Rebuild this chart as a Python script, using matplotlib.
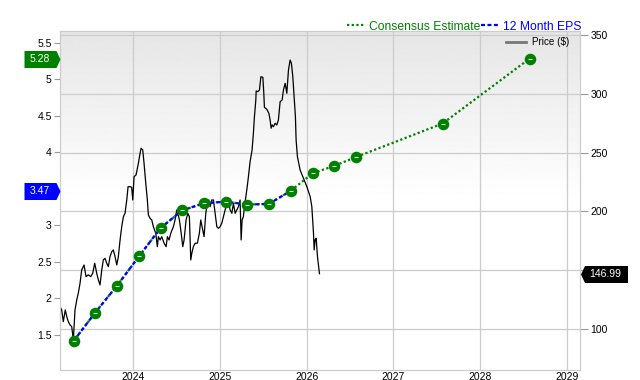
import matplotlib
matplotlib.use("Agg")
import matplotlib.pyplot as plt
import matplotlib.dates as mdates
import matplotlib.transforms as mtransforms
from matplotlib.lines import Line2D
import numpy as np
import pandas as pd

plt.rcParams['font.family'] = ['Liberation Sans', 'DejaVu Sans']

# reported 12 month EPS (quarterly)
eps_dates = ["2023-04-27", "2023-07-27", "2023-10-27", "2024-01-27", "2024-04-27",
             "2024-07-27", "2024-10-27", "2025-01-27", "2025-04-27", "2025-07-27",
             "2025-10-27"]
eps_values = [1.41, 1.80, 2.17, 2.57, 2.96, 3.20, 3.30, 3.32, 3.28, 3.29, 3.47]

# consensus estimates
est_dates = ["2026-01-27", "2026-04-27", "2026-07-27", "2027-07-27", "2028-07-27"]
est_values = [3.71, 3.81, 3.93, 4.39, 5.28]

# share price, time as decimal year
price_years = [
    2023.162, 2023.182, 2023.200, 2023.223, 2023.240, 2023.258, 2023.278, 2023.297, 2023.316, 2023.335,
    2023.355, 2023.373, 2023.393, 2023.412, 2023.439, 2023.462, 2023.488, 2023.516, 2023.539, 2023.562,
    2023.585, 2023.604, 2023.623, 2023.643, 2023.661, 2023.681, 2023.700, 2023.719, 2023.738, 2023.758,
    2023.776, 2023.796, 2023.816, 2023.834, 2023.854, 2023.873, 2023.892, 2023.911, 2023.931, 2023.946,
    2023.969, 2023.988, 2024.000, 2024.015, 2024.038, 2024.065, 2024.084, 2024.096, 2024.115, 2024.130,
    2024.150, 2024.168, 2024.180, 2024.199, 2024.219, 2024.237, 2024.265, 2024.283, 2024.295, 2024.315,
    2024.334, 2024.361, 2024.384, 2024.399, 2024.418, 2024.438, 2024.468, 2024.487, 2024.507, 2024.525,
    2024.537, 2024.553, 2024.576, 2024.591, 2024.614, 2024.634, 2024.652, 2024.668, 2024.680, 2024.698,
    2024.718, 2024.744, 2024.767, 2024.783, 2024.806, 2024.821, 2024.841, 2024.859, 2024.876, 2024.891,
    2024.910, 2024.929, 2024.948, 2024.968, 2024.986, 2025.006, 2025.025, 2025.044, 2025.063, 2025.083,
    2025.101, 2025.121, 2025.141, 2025.159, 2025.179, 2025.198, 2025.217, 2025.236, 2025.248, 2025.259,
    2025.274, 2025.286, 2025.297, 2025.313, 2025.332, 2025.351, 2025.374, 2025.389, 2025.401, 2025.417,
    2025.421, 2025.440, 2025.459, 2025.475, 2025.498, 2025.509, 2025.516, 2025.544, 2025.567, 2025.582,
    2025.593, 2025.605, 2025.620, 2025.639, 2025.659, 2025.677, 2025.697, 2025.720, 2025.735, 2025.755,
    2025.774, 2025.793, 2025.812, 2025.827, 2025.843, 2025.858, 2025.873, 2025.881, 2025.896, 2025.927,
    2025.966, 2026.005, 2026.043, 2026.062, 2026.069, 2026.081, 2026.089, 2026.100, 2026.112, 2026.127,
    2026.150]
price_values = [
    119.0, 116.2, 106.2, 116.2, 110.5, 106.2, 103.4, 102.0, 90.7, 116.2,
    124.7, 130.4, 138.9, 150.2, 154.4, 144.5, 146.0, 144.5, 147.4, 155.9,
    147.4, 141.7, 137.4, 150.2, 158.7, 160.1, 155.9, 153.0, 161.5, 165.7,
    167.2, 161.5, 154.4, 161.5, 175.7, 187.0, 195.5, 198.4, 209.7, 221.0,
    221.0, 220.5, 209.7, 229.5, 231.0, 240.9, 249.4, 253.7, 252.2, 240.9,
    223.9, 209.7, 196.9, 194.1, 192.7, 187.0, 181.4, 170.0, 178.5, 175.7,
    178.5, 172.9, 170.0, 178.5, 175.7, 181.4, 187.0, 192.7, 201.2, 196.9,
    192.7, 184.2, 170.0, 175.7, 192.7, 198.4, 195.5, 158.7, 164.4, 170.0,
    172.9, 172.9, 181.4, 192.7, 184.2, 178.5, 198.4, 206.9, 209.7, 204.0,
    209.7, 209.7, 198.4, 187.0, 185.6, 187.0, 189.9, 195.5, 201.2, 206.9,
    209.7, 201.2, 198.4, 206.9, 198.4, 201.2, 204.0, 209.7, 175.7, 192.7,
    195.5, 204.0, 209.7, 218.2, 229.5, 242.3, 252.2, 266.4, 280.5, 294.7,
    302.4, 301.8, 303.2, 314.5, 314.0, 300.4, 288.5, 286.8, 283.4, 277.7,
    270.7, 273.5, 272.0, 274.9, 273.5, 277.7, 293.3, 294.7, 303.2, 308.9,
    300.4, 320.2, 328.7, 325.9, 314.5, 297.5, 280.5, 260.7, 246.5, 235.2,
    228.2, 221.0, 212.5, 204.0, 195.5, 181.4, 167.2, 175.7, 177.1, 161.5,
    146.99]

eps_ticks = [1.5, 2, 2.5, 3, 3.5, 4, 4.5, 5, 5.5]
price_ticks = [100, 150, 200, 250, 300, 350]

GREEN = "#008000"
BLUE = "#0000ff"
GRID = "#cccccc"

eps_x = pd.to_datetime(eps_dates)
est_x = pd.to_datetime(est_dates)
price_x = pd.Timestamp("2024-01-01") + pd.to_timedelta(
    (np.array(price_years) - 2024) * 365.25, unit="D")

fig = plt.figure(figsize=(6.4, 3.8), dpi=100)
ax = fig.add_axes([60 / 640, 10 / 380, 520 / 640, 339 / 380])

# grey-to-white background
frac = np.linspace(1, 0, 256)
shade = np.clip(0.9 + (1 - frac) * 0.2, 0, 1).reshape(-1, 1)
ax.imshow(shade, extent=[0, 1, 0, 1], transform=ax.transAxes, aspect="auto",
          cmap="gray", vmin=0, vmax=1, zorder=0)

# price on the right-hand axis
ax.plot(price_x, price_values, color="black", lw=0.9, zorder=3)
ax.set_ylim(65.1, 353.4)
ax.set_yticks(price_ticks)
ax.grid(True, color=GRID, lw=0.9)
ax.set_axisbelow(True)

# EPS on the left-hand axis
ax2 = ax.twinx()
ax.yaxis.tick_right()
ax2.yaxis.tick_left()
all_x = list(eps_x) + list(est_x)
all_y = eps_values + est_values
ax2.plot(all_x, all_y, color=GREEN, lw=1.6, ls=(0, (1, 1.1)), zorder=3)
ax2.plot(eps_x, eps_values, color=BLUE, lw=1.6, ls=(0, (1.8, 1.1)), zorder=4)
ax2.plot(all_x, all_y, ls="none", marker="o", ms=7.3, color=GREEN, mec=GREEN, zorder=5)
ax2.plot(all_x, all_y, ls="none", marker="_", ms=2.5, mew=0.8, color="#d8ecd8", zorder=6)
ax2.set_ylim(1.014, 5.658)
ax2.set_yticks(eps_ticks)

# tick labels sitting under a value tag are left blank, as in the original
def tick_text(ticks, tag_values, near):
    out = []
    for v in ticks:
        hidden = any(abs(v - t) < near for t in tag_values)
        out.append("" if hidden else "%g" % v)
    return out

ax2.set_yticklabels(tick_text(eps_ticks, [eps_values[-1], est_values[-1]], 0.1))
ax.set_yticklabels(tick_text(price_ticks, [price_values[-1]], 8))

ax.set_xlim(pd.Timestamp("2023-03-01"), pd.Timestamp("2029-02-24"))
ax.xaxis.set_major_locator(mdates.YearLocator())
ax.xaxis.set_major_formatter(mdates.DateFormatter("%Y"))

for a in (ax, ax2):
    for s in a.spines.values():
        s.set_color(GRID)
ax.tick_params(axis="x", length=0, pad=1.5, labelsize=7.5)
ax.tick_params(axis="y", length=6, width=0.8, color="#999999", pad=1.5, labelsize=7.5)
ax2.tick_params(axis="y", length=4, width=0.8, color="#999999", pad=2, labelsize=7.5)


def tag(axis, x_frac, y, text, color, width, box, point_right):
    # pentagon shaped value tag, sizes in pixels
    h = 17
    if point_right:
        verts = [(-width / 2, -h / 2), (-width / 2 + box, -h / 2), (width / 2, 0),
                 (-width / 2 + box, h / 2), (-width / 2, h / 2)]
        tx = x_frac - (width - box) / 2 / 520
    else:
        verts = [(width / 2, -h / 2), (width / 2 - box, -h / 2), (-width / 2, 0),
                 (width / 2 - box, h / 2), (width / 2, h / 2)]
        tx = x_frac + (width - box) / 2 / 520
    tr = mtransforms.blended_transform_factory(axis.transAxes, axis.transData)
    axis.plot([x_frac], [y], ls="none", marker=verts, ms=width * 0.72, color=color,
              mew=0, transform=tr, clip_on=False, zorder=10)
    axis.text(tx, y, text, color="white", fontsize=7.5, ha="center", va="center",
              transform=tr, clip_on=False, zorder=11)


tag(ax2, -18 / 520, est_values[-1], "%.2f" % est_values[-1], GREEN, 36, 32, True)
tag(ax2, -18 / 520, eps_values[-1], "%.2f" % eps_values[-1], BLUE, 36, 32, True)
tag(ax, 1 + 23.5 / 520, price_values[-1], "%.2f" % price_values[-1], "black", 47, 43, False)

# legends
top_handles = [Line2D([], [], color=GREEN, lw=1.6, ls=(0, (1, 1.1))),
               Line2D([], [], color=BLUE, lw=1.6, ls=(0, (1.8, 1.1)))]
ax2.legend(top_handles, ["Consensus Estimate", "12 Month EPS"], loc="lower right",
           bbox_to_anchor=(1.003, 0.995), ncol=2, frameon=False, fontsize=8.7,
           handlelength=1.4, handletextpad=0.4, columnspacing=0.1, borderaxespad=0,
           borderpad=0, labelcolor=[GREEN, BLUE])
ax.legend([Line2D([], [], color="#777777", lw=2)], ["Price ($)"], loc="upper right",
          bbox_to_anchor=(0.985, 0.99), frameon=False, fontsize=7.1,
          handlelength=2.0, handletextpad=0.6, borderaxespad=0, borderpad=0.3)

fig.savefig("out.png", dpi=100)
